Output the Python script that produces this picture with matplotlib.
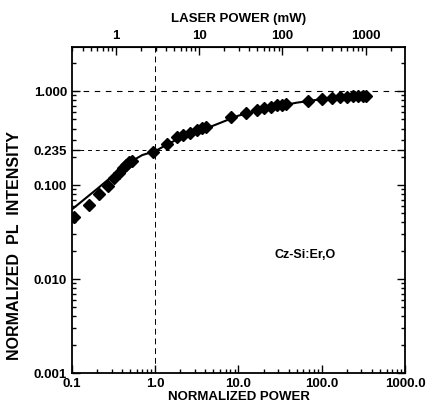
import numpy as np
import matplotlib
matplotlib.use("Agg")
import matplotlib.pyplot as plt
from matplotlib.ticker import FixedLocator, FixedFormatter, LogLocator, NullFormatter

plt.rcParams['font.family'] = ['Liberation Sans', 'DejaVu Sans']
plt.rcParams['font.weight'] = 'bold'

# measured points (normalized power, normalized PL intensity)
power = [0.106, 0.160, 0.213, 0.268, 0.324, 0.370, 0.406, 0.445, 0.488, 0.526,
         0.93, 1.37, 1.81, 2.18, 2.61, 3.15, 3.62, 4.06,
         8.1, 12.3, 16.5, 20.3, 24.9, 29.2, 33.0, 37.2,
         68.6, 99.6, 133.7, 168, 202, 240, 275, 311, 340]
intensity = [0.0462, 0.0612, 0.0812, 0.0976, 0.118, 0.135, 0.151, 0.163, 0.177, 0.182,
             0.224, 0.276, 0.322, 0.340, 0.362, 0.383, 0.401, 0.414,
             0.535, 0.586, 0.628, 0.655, 0.681, 0.705, 0.710, 0.722,
             0.783, 0.816, 0.842, 0.857, 0.872, 0.882, 0.890, 0.892, 0.885]

# fitted curve
fit_power = [0.1, 0.2, 0.3, 0.4, 0.5, 0.7, 1.0, 1.5, 2, 3, 5, 10, 20, 50, 100, 200, 340]
fit_intensity = [0.0552, 0.091, 0.123, 0.152, 0.176, 0.209, 0.230, 0.281, 0.316,
                 0.366, 0.430, 0.549, 0.643, 0.754, 0.822, 0.874, 0.896]

# 1 normalized power unit in mW
mw_per_unit = 2.97

y_ticks = [0.001, 0.010, 0.100, 0.235, 1.000]
y_labels = ['0.001', '0.010', '0.100', '0.235', '1.000']
x_ticks = [0.1, 1, 10, 100, 1000]
x_labels = ['0.1', '1.0', '10.0', '100.0', '1000.0']
top_ticks = [1, 10, 100, 1000]
top_labels = ['1', '10', '100', '1000']

fig = plt.figure(figsize=(4.3, 4.15), dpi=100)
ax = fig.add_axes([0.1674, 0.1012, 0.7744, 0.7855])

ax.set_xscale('log')
ax.set_yscale('log')
ax.set_xlim(0.1, 1000)
ax.set_ylim(0.001, 2.95)

# guide lines
ax.axhline(1.0, color='black', lw=0.8, dashes=(5, 5))
ax.axhline(0.235, color='black', lw=0.7, dashes=(4, 4))
ax.axvline(1.0, color='black', lw=0.7, dashes=(6, 4))

ax.plot(fit_power, fit_intensity, color='black', lw=1.5)
ax.plot(power, intensity, 'D', color='black', markersize=5.8)

ax.text(0.70, 0.362, 'Cz-Si:Er,O', transform=ax.transAxes, ha='center', va='center',
        fontsize=9, fontweight='bold')

ax.yaxis.set_major_locator(FixedLocator(y_ticks))
ax.yaxis.set_major_formatter(FixedFormatter(y_labels))
ax.yaxis.set_minor_locator(LogLocator(base=10, subs=np.arange(2, 10)))
ax.yaxis.set_minor_formatter(NullFormatter())
ax.xaxis.set_major_locator(FixedLocator(x_ticks))
ax.xaxis.set_major_formatter(FixedFormatter(x_labels))
ax.xaxis.set_minor_locator(LogLocator(base=10, subs=np.arange(2, 10)))
ax.xaxis.set_minor_formatter(NullFormatter())

ax.tick_params(which='both', direction='in', right=True, labelsize=9.5, width=1.0)
ax.tick_params(which='major', length=6)
ax.tick_params(which='minor', length=3)
ax.tick_params(axis='x', which='both', top=False)

for s in ax.spines.values():
    s.set_linewidth(1.3)

ax.set_xlabel('NORMALIZED POWER', fontsize=9.5, fontweight='bold', labelpad=1)
ax.set_ylabel('NORMALIZED  PL  INTENSITY', fontsize=11.5, fontweight='bold')
ax.yaxis.set_label_coords(-0.15, 0.39)

top = ax.secondary_xaxis('top', functions=(lambda p: p * mw_per_unit, lambda m: m / mw_per_unit))
top.xaxis.set_major_locator(FixedLocator(top_ticks))
top.xaxis.set_major_formatter(FixedFormatter(top_labels))
top.xaxis.set_minor_locator(LogLocator(base=10, subs=np.arange(2, 10)))
top.xaxis.set_minor_formatter(NullFormatter())
top.tick_params(which='both', direction='in', labelsize=9.5, width=1.0)
top.tick_params(which='major', length=6)
top.tick_params(which='minor', length=3)
top.set_xlabel('LASER POWER (mW)', fontsize=9.5, fontweight='bold', labelpad=6)

fig.savefig('out.png', dpi=100)
